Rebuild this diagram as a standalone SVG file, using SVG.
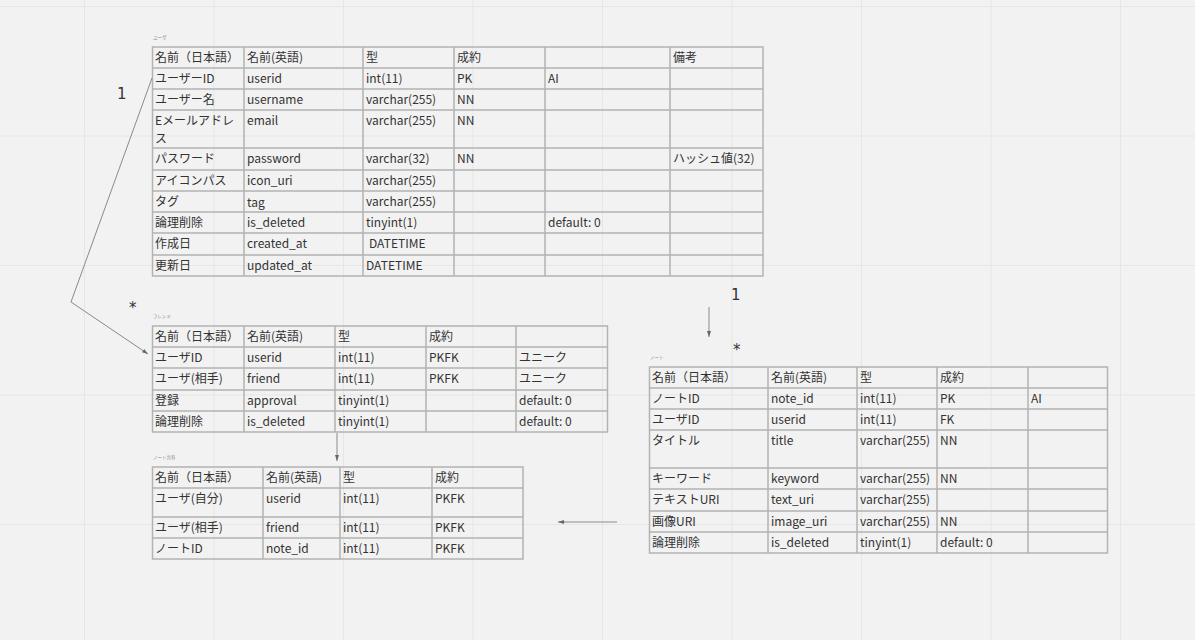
<svg xmlns="http://www.w3.org/2000/svg" width="1195" height="640" viewBox="0 0 1195 640">
<style>
.grid{stroke:#e6e6e6;stroke-width:1;fill:none}
.tb{fill:none;stroke:#b3b3b3;stroke-width:1.5}
.t{font-family:"Noto Sans CJK JP","Noto Sans",sans-serif;font-size:12px;fill:#333}
.ttl{font-family:"Noto Sans CJK JP",sans-serif;font-size:4.5px;fill:#888}
.lbl{font-family:"DejaVu Sans","Liberation Sans",sans-serif;font-size:15px;fill:#333}
.cn{fill:none;stroke:#8a8a8a;stroke-width:1}
</style>
<defs>
<marker id="ah" viewBox="0 0 6 6" refX="6" refY="3" markerWidth="6" markerHeight="6" markerUnits="userSpaceOnUse" orient="auto">
<path d="M0,1 L6,3 L0,5 Z" fill="#666"/>
</marker>
</defs>
<rect width="1195" height="640" fill="#f2f2f2"/>
<g id="grid" class="grid">
<path d="M84.5,0V640M214,0V640M343.5,0V640M473,0V640M602.5,0V640M732,0V640M861.5,0V640M991,0V640M1120.5,0V640"/>
<path d="M0,6.5H1195M0,136H1195M0,265.5H1195M0,395H1195M0,524.5H1195"/>
</g>

<g id="users">
<text class="ttl" x="153" y="39">ユーザ</text>
<rect class="tb" x="152.5" y="47" width="610.5" height="229"/>
<path class="tb" d="M244,47V276M363,47V276M454,47V276M545,47V276M670,47V276M152.5,68H763M152.5,89H763M152.5,110H763M152.5,148H763M152.5,170H763M152.5,191H763M152.5,212H763M152.5,233H763M152.5,255H763"/>
<g class="t">
<text x="155" y="62">名前（日本語）</text><text x="247" y="62">名前(英語)</text><text x="366" y="62">型</text><text x="457" y="62">成約</text><text x="673" y="62">備考</text>
<text x="155" y="83">ユーザーID</text><text x="247" y="83">userid</text><text x="366" y="83">int(11)</text><text x="457" y="83">PK</text><text x="548" y="83">AI</text>
<text x="155" y="104">ユーザー名</text><text x="247" y="104">username</text><text x="366" y="104">varchar(255)</text><text x="457" y="104">NN</text>
<text x="155" y="125">Eメールアドレ</text><text x="155" y="143">ス</text><text x="247" y="125">email</text><text x="366" y="125">varchar(255)</text><text x="457" y="125">NN</text>
<text x="155" y="163">パスワード</text><text x="247" y="163">password</text><text x="366" y="163">varchar(32)</text><text x="457" y="163">NN</text><text x="673" y="163">ハッシュ値(32)</text>
<text x="155" y="185">アイコンパス</text><text x="247" y="185">icon_uri</text><text x="366" y="185">varchar(255)</text>
<text x="155" y="206">タグ</text><text x="247" y="207">tag</text><text x="366" y="206">varchar(255)</text>
<text x="155" y="227">論理削除</text><text x="247" y="227">is_deleted</text><text x="366" y="227">tinyint(1)</text><text x="548" y="227">default: 0</text>
<text x="155" y="248">作成日</text><text x="247" y="248">created_at</text><text x="369" y="248">DATETIME</text>
<text x="155" y="270">更新日</text><text x="247" y="270">updated_at</text><text x="366" y="270">DATETIME</text>
</g>
</g>

<g id="friends">
<text class="ttl" x="153" y="318">フレンド</text>
<rect class="tb" x="152.5" y="326" width="455" height="106"/>
<path class="tb" d="M244,326V432M335,326V432M426,326V432M516,326V432M152.5,347H607.5M152.5,368H607.5M152.5,390H607.5M152.5,411H607.5"/>
<g class="t">
<text x="155" y="341">名前（日本語）</text><text x="247" y="341">名前(英語)</text><text x="338" y="341">型</text><text x="429" y="341">成約</text>
<text x="155" y="362">ユーザID</text><text x="247" y="362">userid</text><text x="338" y="362">int(11)</text><text x="429" y="362">PKFK</text><text x="519" y="362">ユニーク</text>
<text x="155" y="383">ユーザ(相手)</text><text x="247" y="383">friend</text><text x="338" y="383">int(11)</text><text x="429" y="383">PKFK</text><text x="519" y="383">ユニーク</text>
<text x="155" y="405">登録</text><text x="247" y="405">approval</text><text x="338" y="405">tinyint(1)</text><text x="519" y="405">default: 0</text>
<text x="155" y="426">論理削除</text><text x="247" y="426">is_deleted</text><text x="338" y="426">tinyint(1)</text><text x="519" y="426">default: 0</text>
</g>
</g>

<g id="note-share">
<text class="ttl" x="153" y="459">ノート共有</text>
<rect class="tb" x="152.5" y="467" width="370.5" height="92"/>
<path class="tb" d="M263,467V559M340,467V559M432,467V559M152.5,488H523M152.5,517H523M152.5,538H523"/>
<g class="t">
<text x="155" y="482">名前（日本語）</text><text x="266" y="482">名前(英語)</text><text x="343" y="482">型</text><text x="435" y="482">成約</text>
<text x="155" y="503">ユーザ(自分)</text><text x="266" y="503">userid</text><text x="343" y="503">int(11)</text><text x="435" y="503">PKFK</text>
<text x="155" y="532">ユーザ(相手)</text><text x="266" y="532">friend</text><text x="343" y="532">int(11)</text><text x="435" y="532">PKFK</text>
<text x="155" y="553">ノートID</text><text x="266" y="553">note_id</text><text x="343" y="553">int(11)</text><text x="435" y="553">PKFK</text>
</g>
</g>

<g id="notes">
<text class="ttl" x="650" y="359">ノート</text>
<rect class="tb" x="649.5" y="367" width="458" height="186"/>
<path class="tb" d="M768,367V553M857,367V553M937,367V553M1028,367V553M649.5,388H1107.5M649.5,409H1107.5M649.5,430H1107.5M649.5,468H1107.5M649.5,489H1107.5M649.5,511H1107.5M649.5,532H1107.5"/>
<g class="t">
<text x="652" y="382">名前（日本語）</text><text x="771" y="382">名前(英語)</text><text x="860" y="382">型</text><text x="940" y="382">成約</text>
<text x="652" y="403">ノートID</text><text x="771" y="403">note_id</text><text x="860" y="403">int(11)</text><text x="940" y="403">PK</text><text x="1031" y="403">AI</text>
<text x="652" y="424">ユーザID</text><text x="771" y="424">userid</text><text x="860" y="424">int(11)</text><text x="940" y="424">FK</text>
<text x="652" y="445">タイトル</text><text x="771" y="445">title</text><text x="860" y="445">varchar(255)</text><text x="940" y="445">NN</text>
<text x="652" y="483">キーワード</text><text x="771" y="483">keyword</text><text x="860" y="483">varchar(255)</text><text x="940" y="483">NN</text>
<text x="652" y="504">テキストURI</text><text x="771" y="504">text_uri</text><text x="860" y="504">varchar(255)</text>
<text x="652" y="526">画像URI</text><text x="771" y="526">image_uri</text><text x="860" y="526">varchar(255)</text><text x="940" y="526">NN</text>
<text x="652" y="547">論理削除</text><text x="771" y="547">is_deleted</text><text x="860" y="547">tinyint(1)</text><text x="940" y="547">default: 0</text>
</g>
</g>

<g id="connectors">
<path class="cn" d="M152,78 L71,302 L148,354" marker-end="url(#ah)"/>
<path class="cn" d="M709,307 V337" marker-end="url(#ah)"/>
<path class="cn" d="M337,433 V461" marker-end="url(#ah)"/>
<path class="cn" d="M617,522 H558" marker-end="url(#ah)"/>
<text class="lbl" x="117" y="99">1</text>
<text class="lbl" x="129" y="313">*</text>
<text class="lbl" x="731" y="300">1</text>
<text class="lbl" x="733" y="355">*</text>
</g>
</svg>
